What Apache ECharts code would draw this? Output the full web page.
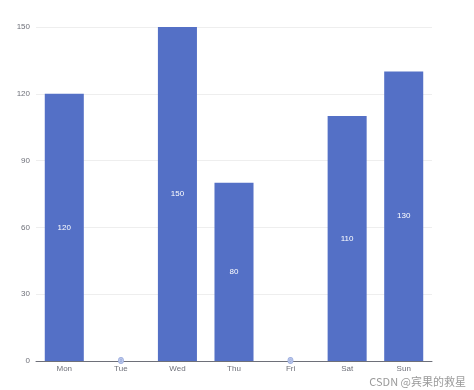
<!DOCTYPE html>
<html><head><meta charset="utf-8">
<script src="https://cdn.jsdelivr.net/npm/echarts@6/dist/echarts.min.js"></script>
<style>html,body{margin:0;padding:0;background:#fff}#c{width:474px;height:390px}</style>
</head><body><div id="c"></div>
<script>
const categories = ['Mon','Tue','Wed','Thu','Fri','Sat','Sun'];
const values = [120, 0, 150, 80, 0, 110, 130];
const chart = echarts.init(document.getElementById('c'));
const seriesData = values.map(v => v === 0
  ? {value: v, label: {textBorderColor: '#9fb0e0', textBorderWidth: 2, color: '#c8d2f0'}}
  : v);
chart.setOption({
  animation: false,
  grid: {left: 36, right: 42, top: 27, bottom: 29},
  xAxis: {
    type: 'category', data: categories,
    axisLabel: {fontSize: 8, color: '#6e7079', margin: 4},
    axisTick: {length: 4},
    axisLine: {lineStyle: {color: '#6e7079'}}
  },
  yAxis: {
    type: 'value', min: 0, max: 150, interval: 30,
    axisLabel: {fontSize: 8, color: '#6e7079', margin: 6},
    splitLine: {lineStyle: {color: '#eeeeee'}}
  },
  series: [{
    type: 'bar', data: seriesData, barWidth: '69%',
    itemStyle: {color: '#5470c6'},
    label: {show: true, position: 'inside', fontSize: 8, color: '#fff'}
  }],
  graphic: [{
    type: 'text', right: 8, bottom: 3,
    style: {text: 'CSDN @宾果的救星', fontSize: 11, fill: '#9a9a9a', fontFamily: 'Noto Sans CJK SC'}
  }]
});
</script></body></html>
